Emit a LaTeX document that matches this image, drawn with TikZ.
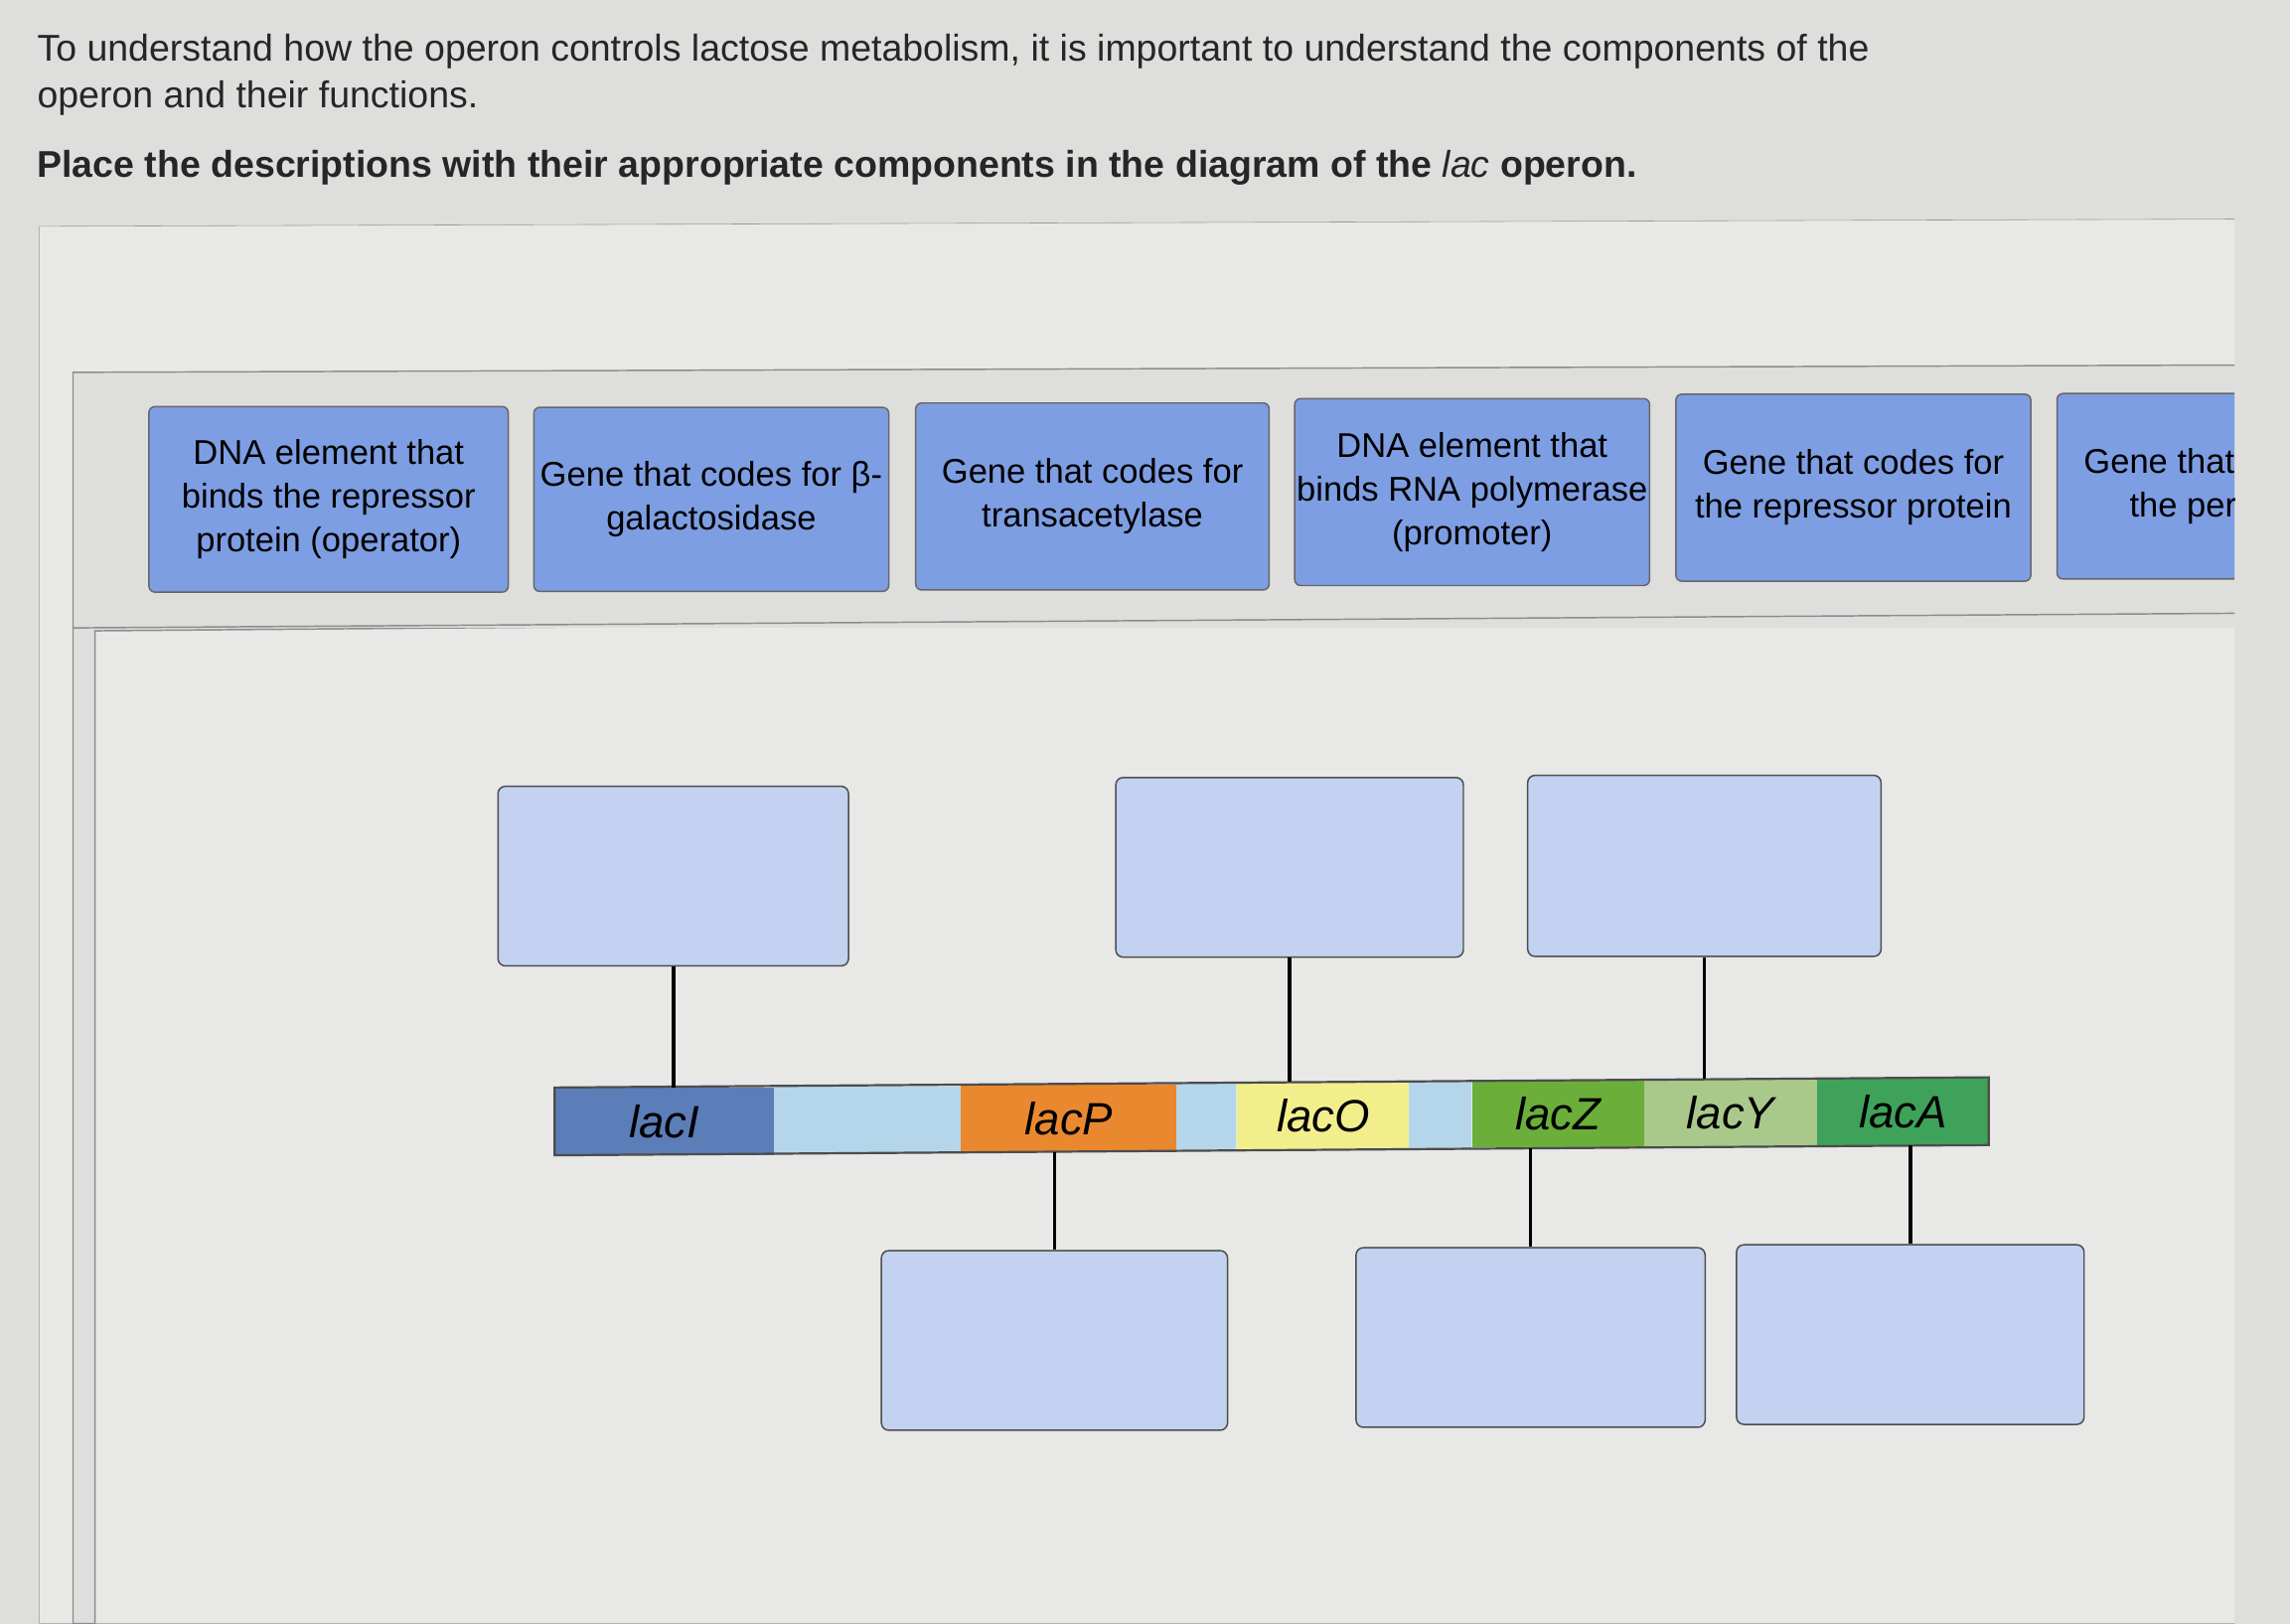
\documentclass[tikz,border=0pt]{standalone}
\usepackage{fontspec}
\setmainfont{Liberation Sans}
\begin{document}
\begin{tikzpicture}[x=1pt,y=-1pt,
 tile/.style={draw=black!60,fill=tileblue,rounded corners=4pt,line width=1pt,align=center,font=\fontsize{23.5}{30}\selectfont,inner sep=0pt},
 target/.style={draw=black!70,fill=targetblue,rounded corners=5pt,line width=1pt},
 seg/.style={minimum height=46pt,inner sep=0pt,font=\fontsize{31}{32}\selectfont\itshape},
 conn/.style={line width=2.5pt,black}]
\definecolor{tileblue}{HTML}{7E9EE3}
\definecolor{targetblue}{HTML}{C3D2F0}
\definecolor{bgc}{HTML}{DEDEDC}
\definecolor{panel}{HTML}{E8E8E6}
\useasboundingbox (0,0) rectangle (1568,1112);
\fill[bgc] (0,0) rectangle (1568,1112);
\node[anchor=west,font=\fontsize{25.5}{30}\selectfont,text=black!85] (t1) at (22,35) {To understand how the operon controls lactose metabolism, it is important to understand the components of the};
\node[anchor=west,font=\fontsize{25.5}{30}\selectfont,text=black!85] (t2) at (22,67) {operon and their functions.};
\node[anchor=west,font=\fontsize{25.5}{30}\selectfont\bfseries,text=black!85] (t3) at (22,115) {Place the descriptions with their appropriate components in the diagram of the \textit{\mdseries lac} operon.};
\draw[black!40,fill=panel] (1530,150) -- (27,155) -- (27,1112) -- (1530,1112);
\draw[black!45,fill=bgc,line width=1pt] (1530,250) -- (50,255) -- (50,1112) -- (65,1112) -- (65,432) -- (1530,420);
\fill[bgc] (52,257) rectangle (1530,430);
\draw[black!45,line width=1pt] (50,430) -- (1530,420);
\node[tile,minimum width=246pt,minimum height=127pt] (d1) at (225,342) {DNA element that\\binds the repressor\\protein (operator)};
\node[tile,minimum width=243pt,minimum height=126pt] (d2) at (487,342) {Gene that codes for β-\\galactosidase};
\node[tile,minimum width=242pt,minimum height=128pt] (d3) at (748,340) {Gene that codes for\\transacetylase};
\node[tile,minimum width=243pt,minimum height=128pt] (d4) at (1008,337) {DNA element that\\binds RNA polymerase\\(promoter)};
\node[tile,minimum width=243pt,minimum height=128pt] (d5) at (1269,334) {Gene that codes for\\the repressor protein};
\begin{scope}
\clip (1400,260) rectangle (1530,410);
\node[tile,minimum width=243pt,minimum height=127pt] (d6) at (1530,333) {Gene that codes for\\the permease};
\end{scope}
\definecolor{cI}{HTML}{5B7DB8}\definecolor{cS}{HTML}{B5D6EA}\definecolor{cP}{HTML}{EA8830}
\definecolor{cO}{HTML}{F3EE8C}\definecolor{cZ}{HTML}{6CAE3A}\definecolor{cY}{HTML}{A9C98B}\definecolor{cA}{HTML}{3FA25A}
\node[seg,fill=cI,minimum width=150pt] (lacI) at (455,768) {lacI};
\node[seg,fill=cS,minimum width=128pt] (s1) at (594,767) {};
\node[seg,fill=cP,minimum width=148pt] (lacP) at (732,766) {lacP};
\node[seg,fill=cS,minimum width=41pt] (s2) at (826,765) {};
\node[seg,fill=cO,minimum width=118pt] (lacO) at (906,764) {lacO};
\node[seg,fill=cS,minimum width=43pt] (s3) at (986,764) {};
\node[seg,fill=cZ,minimum width=118pt] (lacZ) at (1067,763) {lacZ};
\node[seg,fill=cY,minimum width=119pt] (lacY) at (1185,762) {lacY};
\node[seg,fill=cA,minimum width=117pt] (lacA) at (1303,761) {lacA};
\draw[black!70,line width=1.5pt] (lacI.north west) -- (lacA.north east) -- (lacA.south east) -- (lacI.south west) -- cycle;
\node[target,minimum width=240pt,minimum height=123pt] (b1) at (461,600) {};
\node[target,minimum width=238pt,minimum height=123pt] (b2) at (883,594) {};
\node[target,minimum width=242pt,minimum height=124pt] (b3) at (1167,593) {};
\node[target,minimum width=237pt,minimum height=123pt] (b4) at (722,918) {};
\node[target,minimum width=239pt,minimum height=123pt] (b5) at (1048,916) {};
\node[target,minimum width=238pt,minimum height=123pt] (b6) at (1308,914) {};
\draw[conn] (b1.south) -- (b1.south|-lacI.north);
\draw[conn] (b2.south) -- (b2.south|-lacO.north);
\draw[conn] (b3.south) -- (b3.south|-lacY.north);
\draw[conn] (b4.north) -- (b4.north|-lacP.south);
\draw[conn] (b5.north) -- (b5.north|-lacZ.south);
\draw[conn] (b6.north) -- (b6.north|-lacA.south);
\end{tikzpicture}
\end{document}
